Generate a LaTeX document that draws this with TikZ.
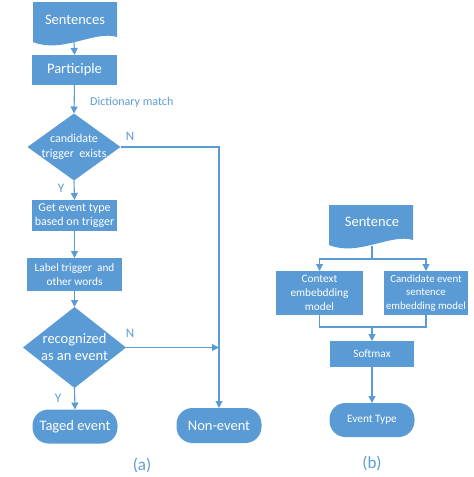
\documentclass[tikz,border=0pt]{standalone}
\usepackage{fontspec}
\setmainfont{Carlito}
\usetikzlibrary{shapes.geometric,arrows.meta}
\definecolor{flowblue}{HTML}{5B9BD5}
\tikzset{
  big/.style={font=\fontsize{14.5}{17}\selectfont},
  mid/.style={font=\fontsize{12}{14.5}\selectfont},
  small/.style={font=\fontsize{11.3}{14}\selectfont},
  box/.style={fill=flowblue, text=white, inner sep=0pt, outer sep=0pt, align=center},
  process/.style={box, minimum width=85pt, minimum height=30pt},
  terminal/.style={box, rounded corners=16pt, minimum width=85pt, minimum height=34pt, big},
  decide/.style={fill=flowblue, diamond, inner sep=0pt, outer sep=0pt},
  dtext/.style={text=white, align=center, inner sep=0pt},
  link/.style={flowblue, line width=1.1pt},
  arr/.style={link, -{Triangle[length=7pt,width=7pt]}},
  lbl/.style={text=flowblue, inner sep=0pt},
  yn/.style={lbl, font=\fontsize{13}{15}\selectfont},
  caption/.style={lbl, font=\fontsize{17}{20}\selectfont}
}
\begin{document}
\begin{tikzpicture}[x=1pt,y=-1pt]
    \useasboundingbox (0,0) rectangle (474,477);

    % (a)
    \fill[flowblue] (33,2) -- (117,2) -- (117,37) .. controls (95,30) and (62,54) .. (33,42) -- cycle;
    \node[dtext, big] (sents) at (75,20) {Sentences};
    \coordinate (sentsb) at (74,42);

    \node[process, big] (part) at (74.5,70) {Participle};
    \node[decide, minimum width=93pt, minimum height=67pt] (d1) at (74,147) {};
    \node[dtext, mid] at (d1) {candidate\\trigger~~exists};
    \node[process, mid, minimum height=31pt] (gettype) at (74.5,215.5) {Get event type\\based on trigger};
    \node[process, small, minimum width=95pt, minimum height=33pt] (label) at (74.5,274.5) {Label trigger~~and\\other words};
    \node[decide, minimum width=103pt, minimum height=81pt] (d2) at (74.5,347.5) {};
    \node[dtext, big] at (d2) {recognized\\as an event};
    \node[terminal] (taged) at (75,426.5) {Taged event};
    \node[terminal, minimum height=35pt] (nonev) at (219,425.5) {Non-event};

    \draw[arr] (sentsb) -- (part.north);
    \draw[arr] (part.south) -- (d1.north);
    \draw[arr] (d1.south) -- (gettype.north);
    \draw[arr] (gettype.south) -- (label.north);
    \draw[arr] (label.south) -- (d2.north);
    \draw[arr] (d2.south) -- (taged.north);
    \draw[arr] (d1.east) -| (nonev.north);
    \draw[arr] (d2.east) -- (d2.east -| nonev.north);

    \node[lbl, mid, anchor=west] at (90,102) {Dictionary match};
    \node[yn] at (130,136) {N};
    \node[yn] at (61,188) {Y};
    \node[yn] at (130,333) {N};
    \node[yn] at (58,398) {Y};
    \node[caption] at (142,465) {(a)};

    % (b)
    \fill[flowblue] (329,205) -- (413,205) -- (413,240) .. controls (391,233) and (358,257) .. (329,245) -- cycle;
    \node[dtext, big] (sent) at (372,222) {Sentence};
    \coordinate (sentb) at (372,246);
    \coordinate (split) at (372,259);
    \coordinate (merge) at (372,327);

    \node[process, small, minimum width=87pt, minimum height=44pt] (context) at (319.5,293) {Context\\embebdding\\model};
    \node[process, font=\fontsize{10.8}{13.5}\selectfont, minimum width=84pt, minimum height=44pt] (cand) at (426,293) {Candidate event\\sentence\\embedding model};
    \node[process, small, minimum width=84pt, minimum height=26pt] (softmax) at (372,354) {Softmax};
    \node[terminal, small] (evtype) at (372,420) {Event Type};

    \draw[link] (sentb) -- (split);
    \draw[arr] (split) -| (context.north);
    \draw[arr] (split) -| (cand.north);
    \draw[link] (context.south) |- (merge) -| (cand.south);
    \draw[arr] (merge) -- (softmax.north);
    \draw[arr] (softmax.south) -- (evtype.north);

    \node[caption] at (372,463) {(b)};
\end{tikzpicture}
\end{document}
